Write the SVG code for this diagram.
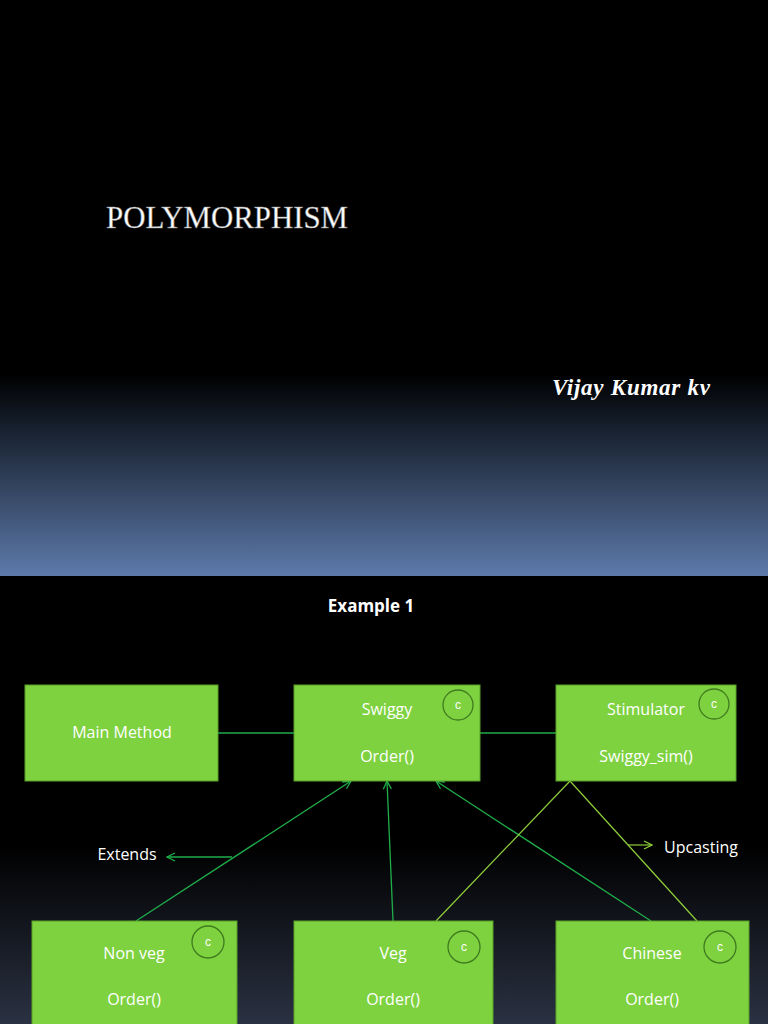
<svg xmlns="http://www.w3.org/2000/svg" width="768" height="1024" viewBox="0 0 768 1024">
<defs>
<linearGradient id="g1" x1="0" y1="0" x2="0" y2="1"><stop offset="0" stop-color="#000"/><stop offset="0.65" stop-color="#000"/><stop offset="0.72" stop-color="#111822"/><stop offset="1" stop-color="#5d7aab"/></linearGradient>
<linearGradient id="g2" x1="0" y1="0" x2="0" y2="1"><stop offset="0" stop-color="#000"/><stop offset="0.6" stop-color="#000"/><stop offset="1" stop-color="#2a3142"/></linearGradient>
<marker id="ah" markerWidth="10" markerHeight="10" refX="9" refY="5" orient="auto" markerUnits="userSpaceOnUse"><path d="M1,1 L9,5 L1,9" fill="none" stroke="#1fae4a" stroke-width="1.3"/></marker>
<marker id="ah2" markerWidth="10" markerHeight="10" refX="9" refY="5" orient="auto" markerUnits="userSpaceOnUse"><path d="M1,1 L9,5 L1,9" fill="none" stroke="#8fcf3a" stroke-width="1.3"/></marker>
</defs>
<style>
.box{fill:#7ed13f;stroke:#5aa02a;stroke-width:1}
.t{font-family:"Open Sans","Liberation Sans",sans-serif;font-size:16px;fill:#fff;text-anchor:middle}
.c{fill:none;stroke:#3f7a1f;stroke-width:1.3}
.ct{font-family:"Liberation Sans",sans-serif;font-size:12px;fill:#fff;text-anchor:middle}
.e{stroke:#1fae4a;stroke-width:1.3;fill:none}
.u{stroke:#8fcf3a;stroke-width:1.2;fill:none}
</style>
<rect x="0" y="0" width="768" height="576" fill="url(#g1)"/>
<rect x="0" y="576" width="768" height="448" fill="url(#g2)"/>
<text x="106" y="228" font-family="Liberation Serif,serif" font-size="31" fill="#fff" stroke="#888" stroke-width="0.5" textLength="242" lengthAdjust="spacingAndGlyphs">POLYMORPHISM</text>
<text x="552" y="395" font-family="Liberation Serif,serif" font-style="italic" font-weight="bold" font-size="23" fill="#fff" textLength="158">Vijay Kumar kv</text>
<text x="371" y="612" font-family="Open Sans,Liberation Sans,sans-serif" font-weight="bold" font-size="17" fill="#fff" text-anchor="middle">Example 1</text>
<g id="connectors">
<line class="e" x1="218" y1="733" x2="294" y2="733"/>
<line class="e" x1="480" y1="733" x2="556" y2="733"/>
<line class="e" x1="136" y1="921" x2="351" y2="781" marker-end="url(#ah)"/>
<line class="e" x1="393" y1="921" x2="387" y2="781" marker-end="url(#ah)"/>
<line class="e" x1="651" y1="921" x2="436" y2="781" marker-end="url(#ah)"/>
<line class="u" x1="570" y1="781" x2="436" y2="921"/>
<line class="u" x1="570" y1="781" x2="697" y2="921"/>
<line class="e" x1="232" y1="857" x2="167" y2="857" marker-end="url(#ah)"/>
<line class="u" x1="628" y1="845" x2="652" y2="845" marker-end="url(#ah2)"/>
</g>
<text x="127" y="860" class="t">Extends</text>
<text x="701" y="853" class="t">Upcasting</text>
<g id="main"><rect class="box" x="25" y="685" width="193" height="96"/><text class="t" x="122" y="738">Main Method</text></g>
<g id="swiggy"><rect class="box" x="294" y="685" width="186" height="96"/><text class="t" x="387" y="715">Swiggy</text><text class="t" x="387" y="762">Order()</text><circle class="c" cx="458" cy="705" r="15"/><text class="ct" x="458" y="709">c</text></g>
<g id="stimulator"><rect class="box" x="556" y="685" width="180" height="96"/><text class="t" x="646" y="715">Stimulator</text><text class="t" x="646" y="762">Swiggy_sim()</text><circle class="c" cx="714" cy="704" r="15"/><text class="ct" x="714" y="708">c</text></g>
<g id="nonveg"><rect class="box" x="32" y="921" width="205" height="110"/><text class="t" x="134" y="959">Non veg</text><text class="t" x="134" y="1005">Order()</text><circle class="c" cx="208" cy="942" r="16"/><text class="ct" x="208" y="946">c</text></g>
<g id="veg"><rect class="box" x="294" y="921" width="199" height="110"/><text class="t" x="393" y="959">Veg</text><text class="t" x="393" y="1005">Order()</text><circle class="c" cx="464" cy="947" r="16"/><text class="ct" x="464" y="951">c</text></g>
<g id="chinese"><rect class="box" x="556" y="921" width="193" height="110"/><text class="t" x="652" y="959">Chinese</text><text class="t" x="652" y="1005">Order()</text><circle class="c" cx="720" cy="947" r="16"/><text class="ct" x="720" y="951">c</text></g>
</svg>
